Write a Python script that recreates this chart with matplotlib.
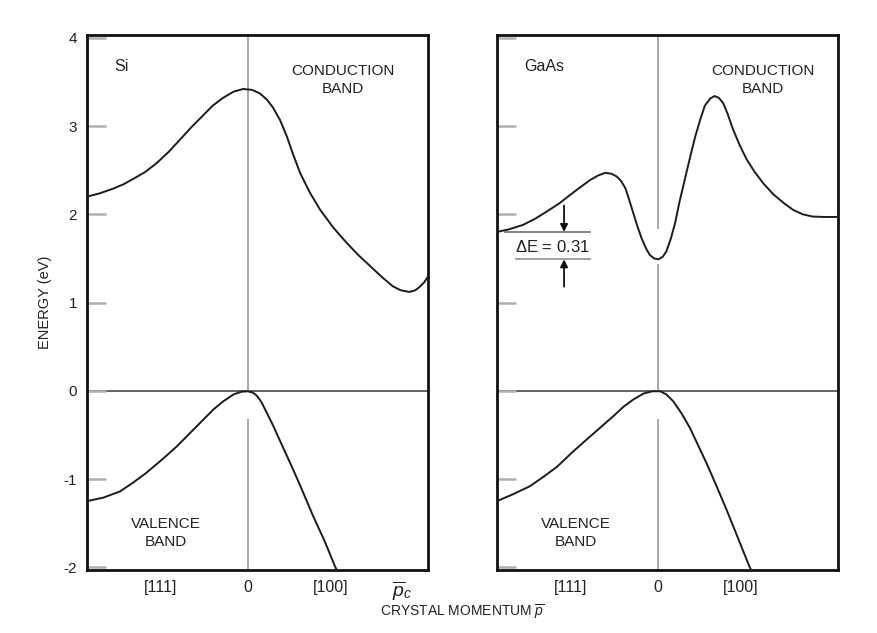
import matplotlib
matplotlib.use("Agg")
import matplotlib.pyplot as plt
import numpy as np

plt.rcParams['font.family'] = ['Liberation Sans', 'DejaVu Sans']
plt.rcParams['mathtext.fontset'] = 'custom'
plt.rcParams['mathtext.it'] = 'Liberation Sans:italic'
plt.rcParams['mathtext.rm'] = 'Liberation Sans'
plt.rcParams['axes.unicode_minus'] = False

# crystal momentum axis: [111] = -1, 0, [100] = +1
si_cond_x = [-1.84, -1.70, -1.54, -1.42, -1.31, -1.17, -1.04, -0.90, -0.77, -0.64, -0.51,
             -0.40, -0.28, -0.16, -0.05, 0.05, 0.14, 0.22, 0.29, 0.37, 0.45, 0.52, 0.60,
             0.71, 0.83, 0.98, 1.13, 1.27, 1.40, 1.53, 1.66, 1.75, 1.85, 1.92, 1.97, 2.02, 2.06]
si_cond_y = [2.20, 2.235, 2.29, 2.34, 2.40, 2.48, 2.58, 2.71, 2.85, 2.99, 3.12,
             3.23, 3.32, 3.39, 3.42, 3.41, 3.37, 3.30, 3.21, 3.07, 2.88, 2.68, 2.47,
             2.25, 2.05, 1.85, 1.68, 1.535, 1.415, 1.295, 1.185, 1.14, 1.12, 1.14, 1.18, 1.23, 1.29]
si_val_x = [-1.84, -1.65, -1.46, -1.31, -1.16, -0.98, -0.81, -0.66, -0.51, -0.39, -0.28,
            -0.16, -0.07, 0.00, 0.06, 0.10, 0.14, 0.17, 0.20, 0.24, 0.29, 0.40, 0.52,
            0.63, 0.75, 0.88, 1.00, 1.02]
si_val_y = [-1.25, -1.21, -1.14, -1.04, -0.93, -0.78, -0.63, -0.48, -0.33, -0.21, -0.12,
            -0.04, -0.01, -0.005, -0.02, -0.05, -0.10, -0.15, -0.21, -0.29, -0.39, -0.63, -0.89,
            -1.14, -1.42, -1.70, -1.99, -2.03]

gaas_cond_x = [-1.84, -1.70, -1.54, -1.40, -1.27, -1.13, -1.00, -0.88, -0.77, -0.68, -0.60,
               -0.53, -0.47, -0.42, -0.37, -0.33, -0.28, -0.23, -0.18, -0.13, -0.09, -0.04,
               0.01, 0.06, 0.10, 0.15, 0.20, 0.25, 0.31, 0.37, 0.43, 0.49, 0.54, 0.60, 0.65,
               0.70, 0.75, 0.80, 0.86, 0.94, 1.02, 1.11, 1.21, 1.32, 1.44, 1.55, 1.66, 1.77,
               1.89, 2.06]
gaas_cond_y = [1.80, 1.83, 1.88, 1.95, 2.03, 2.12, 2.22, 2.31, 2.39, 2.44, 2.47,
               2.46, 2.43, 2.38, 2.30, 2.18, 2.02, 1.86, 1.72, 1.61, 1.54, 1.50,
               1.49, 1.52, 1.58, 1.72, 1.90, 2.14, 2.39, 2.64, 2.88, 3.08, 3.23, 3.31, 3.34,
               3.32, 3.26, 3.14, 2.97, 2.78, 2.62, 2.48, 2.35, 2.23, 2.13, 2.05, 2.00, 1.975,
               1.97, 1.97]
gaas_val_x = [-1.84, -1.65, -1.46, -1.30, -1.15, -0.98, -0.81, -0.66, -0.51, -0.39, -0.28,
              -0.16, -0.06, 0.03, 0.10, 0.18, 0.27, 0.37, 0.46, 0.56, 0.67, 0.79, 0.92,
              1.05, 1.07]
gaas_val_y = [-1.25, -1.17, -1.08, -0.97, -0.86, -0.70, -0.55, -0.42, -0.29, -0.18, -0.10,
              -0.03, -0.005, -0.005, -0.04, -0.12, -0.25, -0.42, -0.61, -0.82, -1.07, -1.35, -1.67,
              -1.99, -2.03]

x_ticks = [-1, 0, 0.95]
x_labels = ['[111]', '0', '[100]']
y_ticks = [-2, -1, 0, 1, 2, 3, 4]
delta_e = 0.31
gaas_gap_low = 1.49
gaas_gap_high = gaas_gap_low + delta_e

fig = plt.figure(figsize=(8.77, 6.33), dpi=100)
ax1 = fig.add_axes((0.0989, 0.0995, 0.3888, 0.845))
ax2 = fig.add_axes((0.5664, 0.0995, 0.3888, 0.845))

curve_col = '#1c1c1c'
text_col = '#222222'

panels = [
    (ax1, si_cond_x, si_cond_y, si_val_x, si_val_y, 'Si', 1.09, [(4.05, 0.0)]),
    (ax2, gaas_cond_x, gaas_cond_y, gaas_val_x, gaas_val_y, 'GaAs', 1.20,
     [(4.05, 1.85), (1.43, 0.0)]),
]

for ax, cx, cy, vx, vy, name, cb_x, vsegs in panels:
    ax.set_xlim(-1.84, 2.06)
    ax.set_ylim(-2.03, 4.03)
    ax.axhline(0, color='#555555', lw=1.3, zorder=1)
    for top, bot in vsegs:
        ax.plot([0, 0], [bot, top], color='#a0a0a0', lw=1.3, zorder=1)
    ax.plot([0, 0], [-0.33, -2.03], color='#a0a0a0', lw=1.3, zorder=1)
    ax.plot(cx, cy, color=curve_col, lw=1.4, zorder=3, solid_joinstyle='round')
    ax.plot(vx, vy, color=curve_col, lw=1.4, zorder=3, solid_joinstyle='round')

    ax.set_xticks(x_ticks)
    ax.set_xticklabels(x_labels)
    ax.set_yticks(y_ticks)
    ax.tick_params(axis='x', length=0, pad=7, labelsize=11.5, labelcolor=text_col)
    ax.tick_params(axis='y', direction='in', length=14, width=1.8, color='#b0b0b0',
                   pad=7, labelsize=11, labelcolor=text_col)
    for s in ax.spines.values():
        s.set_linewidth(2)
        s.set_color('#111111')

    ax.text(-1.53, 3.67, name, fontsize=11.5, color=text_col, ha='left', va='center')
    ax.text(cb_x, 3.52, 'CONDUCTION\nBAND', fontsize=11, color=text_col,
            ha='center', va='center', linespacing=1.3)
    ax.text(-0.94, -1.61, 'VALENCE\nBAND', fontsize=11, color=text_col,
            ha='center', va='center', linespacing=1.3)

ax2.set_yticklabels([])
ax1.text(1.77, -0.04, r'$\overline{p}_c$', transform=ax1.get_xaxis_transform(),
         fontsize=14, color=text_col, ha='center', va='center')

# delta E marker in GaAs panel
ax2.plot([-1.75, -0.77], [gaas_gap_high, gaas_gap_high], color='#777777', lw=1.3, zorder=2)
ax2.plot([-1.62, -0.77], [gaas_gap_low, gaas_gap_low], color='#999999', lw=1.3, zorder=2)
ax2.annotate('', xy=(-1.07, gaas_gap_high), xytext=(-1.07, 2.10),
             arrowprops=dict(arrowstyle='-|>', color='#111111', lw=1.3,
                             mutation_scale=11, shrinkA=0, shrinkB=0))
ax2.annotate('', xy=(-1.07, gaas_gap_low), xytext=(-1.07, 1.18),
             arrowprops=dict(arrowstyle='-|>', color='#111111', lw=1.3,
                             mutation_scale=11, shrinkA=0, shrinkB=0))
ax2.text(-1.20, 1.635, r'$\Delta$E = 0.31', fontsize=12, color=text_col,
         ha='center', va='center')

fig.text(0.051, 0.523, 'ENERGY (eV)', rotation=90, fontsize=10.5, color=text_col,
         ha='center', va='center')
fig.text(0.527, 0.032, r'CRYSTAL MOMENTUM $\overline{p}$', fontsize=10,
         color=text_col, ha='center', va='center')

fig.savefig('out.png', dpi=100)
